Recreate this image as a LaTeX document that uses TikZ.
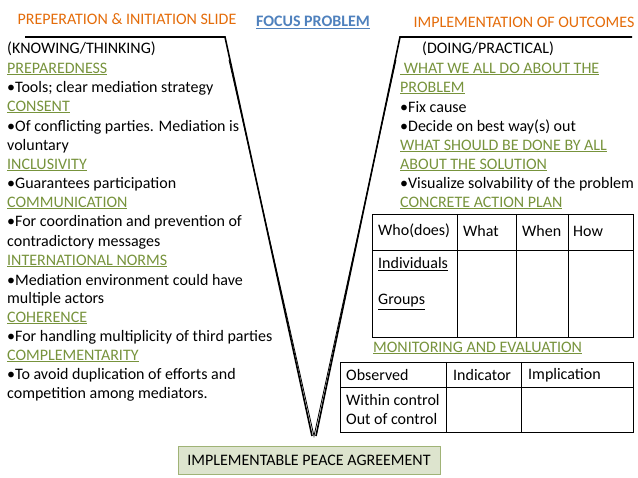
\documentclass[tikz,border=0pt]{standalone}
\usepackage{fontspec}
\setmainfont{Carlito}
\newcommand\Ltx[3]{\node[t,text=#3] (l#1) at (7,#1) {#2};}
\newcommand\Rtx[3]{\node[t,text=#3] (r#1) at (400,#1) {#2};}
\begin{document}
\begin{tikzpicture}[x=1pt,y=-1pt,
  t/.style={anchor=west,inner sep=0pt,font=\fontsize{16}{18}\selectfont},
  g/.style={t,text=ogreen},
  hd/.style={inner sep=0pt,font=\fontsize{16}{18}\selectfont}]
\definecolor{ogreen}{HTML}{77933C}
\definecolor{oorange}{HTML}{E46C0A}
\definecolor{oblue}{HTML}{4F81BD}
\useasboundingbox (0,0) rectangle (638,478);
\node[hd,text=oorange] (h1) at (127,19) {PREPERATION \& INITIATION SLIDE};
\node[hd,text=oblue] (h2) at (313,22) {\textbf{\underline{FOCUS PROBLEM}}};
\node[hd,text=oorange] (h3) at (524,22) {IMPLEMENTATION OF OUTCOMES};
% V lines
\coordinate (la) at (25,37); \coordinate (lb) at (225,37); \coordinate (lv) at (312,436);
\coordinate (ra) at (632,37); \coordinate (rb) at (400,37); \coordinate (rv) at (316,436);
\coordinate (lc) at (229,60); \coordinate (rc) at (396,60);
\draw[line width=1.6pt] (la) -- (lb) -- (lv);
\draw[line width=1.6pt] (ra) -- (rb) -- (rv);
\draw[line width=0.8pt] (lc) -- (314,436) -- (rc);
% left text
\Ltx{49}{(KNOWING/THINKING)}{black}
\Ltx{69}{\underline{PREPAREDNESS}}{ogreen}
\Ltx{88}{•Tools; clear mediation strategy}{black}
\Ltx{107}{\underline{CONSENT}}{ogreen}
\Ltx{127}{•Of conflicting parties. Mediation is}{black}
\Ltx{146}{voluntary}{black}
\Ltx{165}{\underline{INCLUSIVITY}}{ogreen}
\Ltx{184}{•Guarantees participation}{black}
\Ltx{203}{\underline{COMMUNICATION}}{ogreen}
\Ltx{222}{•For coordination and prevention of}{black}
\Ltx{242}{contradictory messages}{black}
\Ltx{261}{\underline{INTERNATIONAL NORMS}}{ogreen}
\Ltx{280}{•Mediation environment could have}{black}
\Ltx{299}{multiple actors}{black}
\Ltx{318}{\underline{COHERENCE}}{ogreen}
\Ltx{337}{•For handling multiplicity of third parties}{black}
\Ltx{356}{\underline{COMPLEMENTARITY}}{ogreen}
\Ltx{375}{•To avoid duplication of efforts and}{black}
\Ltx{394}{competition among mediators.}{black}
% right text
\node[t] (r49) at (422,49) {(DOING/PRACTICAL)};
\Rtx{69}{\underline{\ WHAT WE ALL DO ABOUT THE}}{ogreen}
\Rtx{88}{\underline{PROBLEM}}{ogreen}
\Rtx{107}{•Fix cause}{black}
\Rtx{127}{•Decide on best way(s) out}{black}
\Rtx{146}{\underline{WHAT SHOULD BE DONE BY ALL}}{ogreen}
\Rtx{165}{\underline{ABOUT THE SOLUTION}}{ogreen}
\Rtx{184}{•Visualize solvability of the problem}{black}
\Rtx{203}{\underline{CONCRETE ACTION PLAN}}{ogreen}
% table 1
\draw[thick] (372,214) rectangle (633,337);
\draw[thick] (372,250) -- (633,250);
\foreach \x in {457,516,568} \draw[thick] (\x,214) -- (\x,337);
\node[t] (c1) at (378,231) {Who(does)};
\node[t] (c2) at (463,231) {What};
\node[t] (c3) at (522,231) {When};
\node[t] (c4) at (573,231) {How};
\node[t] (c5) at (378,264) {\underline{Individuals}};
\node[t] (c6) at (378,302) {\underline{Groups}};
\node[g] (mon) at (373,348) {\underline{MONITORING AND EVALUATION}};
% table 2
\draw[thick] (340,362) rectangle (633,432);
\draw[thick] (340,387) -- (633,387);
\foreach \x in {446,521} \draw[thick] (\x,362) -- (\x,432);
\node[t] (d1) at (346,375) {Observed};
\node[t] (d2) at (453,375) {Indicator};
\node[t] (d3) at (528,375) {Implication};
\node[t] (d4) at (346,400) {Within control};
\node[t] (d5) at (346,419) {Out of control};
% bottom
\node[draw=ogreen!70,fill=ogreen!25,minimum width=262,minimum height=28,inner sep=0pt,font=\fontsize{16}{18}\selectfont] (pa) at (309,460) {IMPLEMENTABLE PEACE AGREEMENT};
\end{tikzpicture}
\end{document}
